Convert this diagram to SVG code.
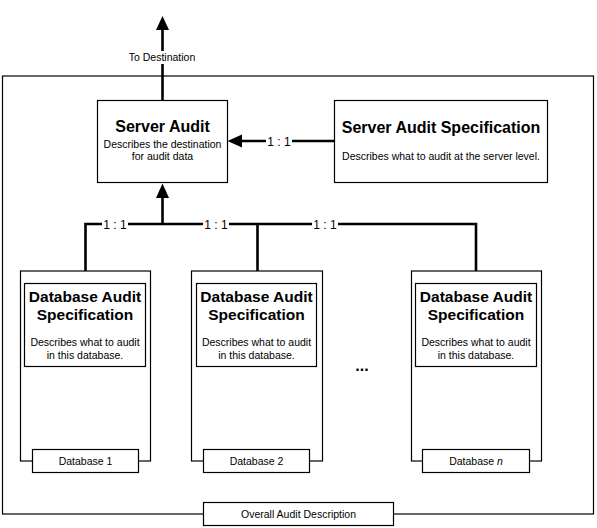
<svg xmlns="http://www.w3.org/2000/svg" width="597" height="528" viewBox="0 0 597 528">
<style>
.box{fill:#fff;stroke:#000;stroke-width:1.2}
.con{fill:none;stroke:#000;stroke-width:2.6}
.t{font-family:"Liberation Sans",Arial,sans-serif;fill:#000;text-anchor:middle}
.h{font-size:15.5px;font-weight:bold}
.s{font-size:10.5px}
.r{font-size:12px}
</style>
<rect width="597" height="528" fill="#fff"/>
<g id="overall">
<rect x="2.5" y="76" width="591" height="438" fill="none" stroke="#000" stroke-width="1.2"/>
</g>
<g id="connectors">
<path class="con" d="M162.5 100 V28"/>
<polygon points="162.5,16 156,30 169,30"/>
<path class="con" d="M334 141 H240"/>
<polygon points="227.5,141 242,134.5 242,147.5"/>
<path class="con" d="M85.5 271 V224 H476 V271 M257.5 224 V271 M162.5 224 V196"/>
<polygon points="162.5,183.5 156,198 169,198"/>
<rect x="126" y="51" width="72" height="13" fill="#fff"/>
<text class="t s" x="162" y="61">To Destination</text>
<rect x="266" y="134" width="26" height="14" fill="#fff"/>
<text class="t r" x="279" y="145.5">1 : 1</text>
<rect x="102" y="217" width="26" height="14" fill="#fff"/>
<text class="t r" x="115" y="228.5">1 : 1</text>
<rect x="203" y="217" width="26" height="14" fill="#fff"/>
<text class="t r" x="216" y="228.5">1 : 1</text>
<rect x="312" y="217" width="26" height="14" fill="#fff"/>
<text class="t r" x="325" y="228.5">1 : 1</text>
</g>
<g id="server-audit">
<rect class="box" x="97.5" y="100.5" width="130" height="82"/>
<text class="t h" x="162.5" y="131.5" style="font-size:16px">Server Audit</text>
<text class="t s" x="162.5" y="147.5">Describes the destination</text>
<text class="t s" x="162.5" y="160">for audit data</text>
</g>
<g id="server-audit-spec">
<rect class="box" x="334.5" y="100.5" width="213" height="82"/>
<text class="t h" x="441" y="133" style="font-size:16px">Server Audit Specification</text>
<text class="t s" x="441" y="160">Describes what to audit at the server level.</text>
</g>
<g id="db1">
<rect class="box" x="20.5" y="271" width="130" height="190"/>
<rect class="box" x="24.5" y="283.5" width="121" height="83"/>
<text class="t h" x="85" y="302">Database Audit</text>
<text class="t h" x="85" y="320">Specification</text>
<text class="t s" x="85" y="346">Describes what to audit</text>
<text class="t s" x="85" y="358.5">in this database.</text>
<rect class="box" x="32.5" y="449.5" width="106" height="23"/>
<text class="t s" x="85.5" y="465">Database 1</text>
</g>
<g id="db2">
<rect class="box" x="191.5" y="271" width="131" height="190"/>
<rect class="box" x="196.5" y="283.5" width="120" height="83"/>
<text class="t h" x="256.5" y="302">Database Audit</text>
<text class="t h" x="256.5" y="320">Specification</text>
<text class="t s" x="256.5" y="346">Describes what to audit</text>
<text class="t s" x="256.5" y="358.5">in this database.</text>
<rect class="box" x="203.5" y="449.5" width="106" height="23"/>
<text class="t s" x="256.5" y="465">Database 2</text>
</g>
<g id="ellipsis">
<text class="t" x="362" y="371" style="font-size:16px;font-weight:bold">...</text>
</g>
<g id="dbn">
<rect class="box" x="411.5" y="271" width="130" height="190"/>
<rect class="box" x="415.5" y="283.5" width="121" height="83"/>
<text class="t h" x="476" y="302">Database Audit</text>
<text class="t h" x="476" y="320">Specification</text>
<text class="t s" x="476" y="346">Describes what to audit</text>
<text class="t s" x="476" y="358.5">in this database.</text>
<rect class="box" x="422.5" y="449.5" width="107" height="23"/>
<text class="t s" x="476" y="465">Database <tspan font-style="italic">n</tspan></text>
</g>
<g id="overall-label">
<rect class="box" x="203.5" y="502.5" width="190" height="23"/>
<text class="t s" x="298.5" y="518">Overall Audit Description</text>
</g>
</svg>
